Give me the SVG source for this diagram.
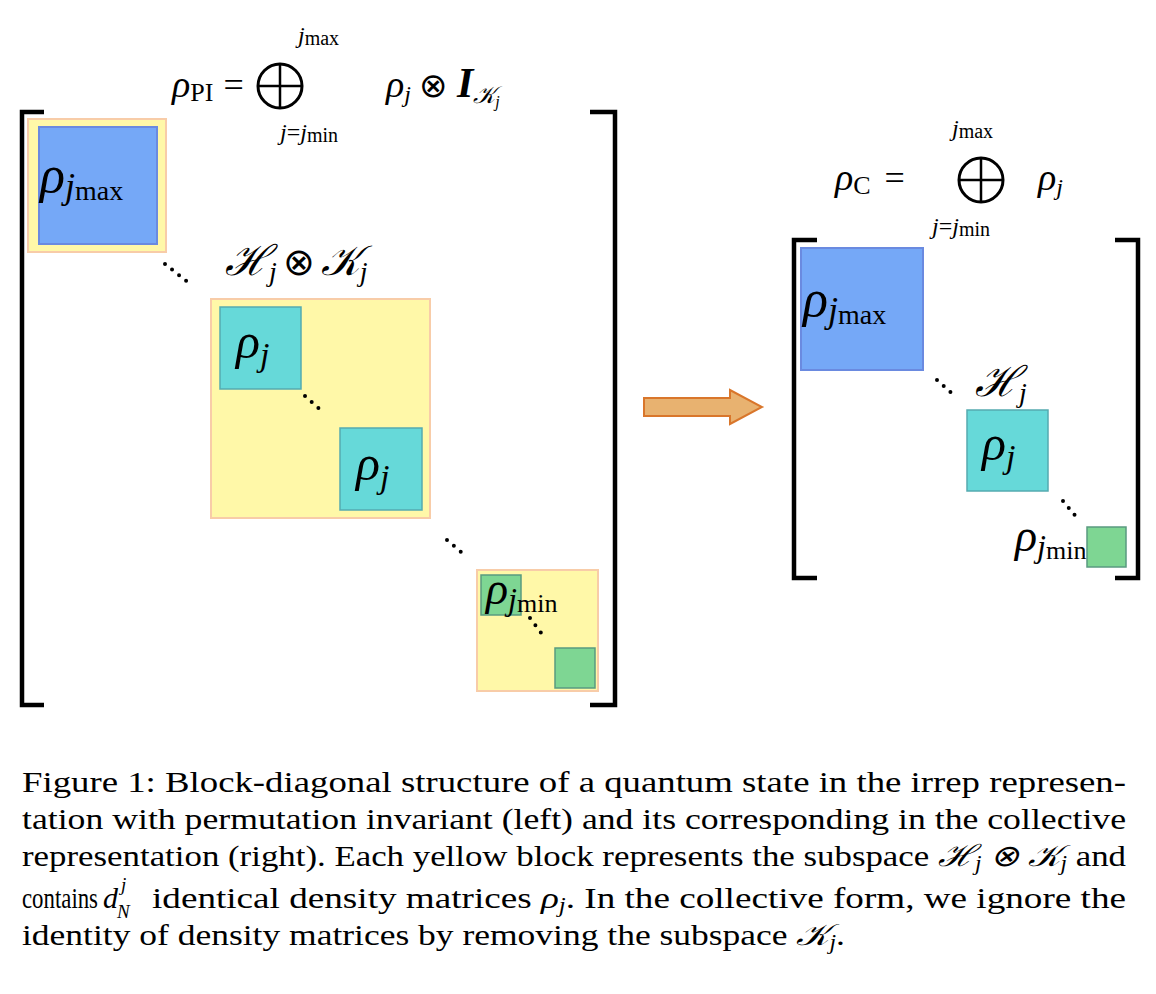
<svg xmlns="http://www.w3.org/2000/svg" width="1156" height="994" viewBox="0 0 1156 994">
<style>
.br{fill:none;stroke:#000;stroke-width:4.5}
.y{fill:#FFF8A8;stroke:#F8CCA8;stroke-width:2}
.b{fill:#75A8F7;stroke:#6A8AE0;stroke-width:2}
.c{fill:#66D9D9;stroke:#55AAB0;stroke-width:1.5}
.g{fill:#7ED693;stroke:#5A9A80;stroke-width:1.5}
.d{fill:none;stroke:#000;stroke-width:4;stroke-linecap:round;stroke-dasharray:0 9}
.m{font-family:"Liberation Serif",serif;font-style:italic;fill:#000}
.r{font-family:"Liberation Serif",serif;fill:#000}
.cap{font-family:"Liberation Serif",serif;font-size:30px;fill:#000}
</style>
<rect width="1156" height="994" fill="#fff"/>
<g id="left-matrix">
<path class="br" d="M44,112 H22 V705 H44"/>
<path class="br" d="M590,112 H615 V705 H590"/>
</g>
<g id="formula-left">
<text x="172" y="97" class="m" font-size="38">ρ<tspan class="r" font-style="normal" font-size="26" dy="4">PI</tspan><tspan class="r" font-style="normal" dx="10" dy="-4" font-size="36">=</tspan></text>
<text x="298" y="43" class="m" font-size="24">j<tspan class="r" font-style="normal" font-size="20" dy="2">max</tspan></text>
<circle cx="280" cy="86" r="22" fill="none" stroke="#000" stroke-width="3"/>
<path d="M258,86 H302 M280,64 V108" stroke="#000" stroke-width="2.5"/>
<text x="280" y="140" class="m" font-size="24">j<tspan class="r" font-style="normal">=</tspan>j<tspan class="r" font-style="normal" font-size="20" dy="2">min</tspan></text>
<text x="386" y="97" class="m" font-size="38">ρ<tspan font-size="24" dy="5">j</tspan><tspan class="r" font-style="normal" dx="8" dy="-5" font-size="34">⊗</tspan><tspan font-weight="bold" dx="10" font-size="42">I</tspan><tspan font-size="24" dy="6">𝒦</tspan><tspan font-size="16" dy="4">j</tspan></text>
</g>
<g id="block-jmax">
<rect class="y" x="28" y="119" width="138" height="133"/>
<rect class="b" x="39" y="127" width="118" height="117"/>
<text x="40" y="192" class="m" font-size="52">ρ<tspan font-size="36" dy="6">j</tspan><tspan class="r" font-style="normal" font-size="28" dy="2">max</tspan></text>
</g>
<g id="label-HK">
<text x="225" y="275" class="m" font-size="42">ℋ<tspan font-size="28" dy="6">j</tspan><tspan class="r" font-style="normal" font-size="38" dx="6" dy="-6">⊗</tspan><tspan dx="6">𝒦</tspan><tspan font-size="28" dy="6">j</tspan></text>
</g>
<g id="block-j">
<rect class="y" x="211" y="299" width="219" height="219"/>
<rect class="c" x="220" y="307" width="81" height="82"/>
<text x="236" y="358" class="m" font-size="50">ρ<tspan font-size="34" dy="8">j</tspan></text>
<rect class="c" x="340" y="428" width="82" height="82"/>
<text x="356" y="480" class="m" font-size="50">ρ<tspan font-size="34" dy="8">j</tspan></text>
</g>
<g id="block-jmin">
<rect class="y" x="477" y="570" width="121" height="121"/>
<rect class="g" x="481" y="575" width="40" height="40"/>
<rect class="g" x="555" y="648" width="40" height="40"/>
<text x="486" y="604" class="m" font-size="46">ρ<tspan font-size="32" dy="6">j</tspan><tspan class="r" font-style="normal" font-size="26" dy="2">min</tspan></text>
</g>
<g id="connectors">
<path class="d" d="M165,264 L190,284"/>
<path class="d" d="M305,396 L325,414"/>
<path class="d" d="M447,540 L467,557"/>
<path class="d" d="M530,618 L545,638"/>
<path class="d" d="M937,380 L956,397"/>
<path class="d" d="M1063,501 L1078,519"/>
<path d="M644,398 H730 V390 L762,407 L730,424 V416 H644 Z" fill="#E8B270" stroke="#D9762B" stroke-width="2"/>
</g>
<g id="right-matrix">
<path class="br" d="M817,240 H794 V578 H817"/>
<path class="br" d="M1115,240 H1138 V578 H1115"/>
</g>
<g id="formula-right">
<text x="835" y="190" class="m" font-size="38">ρ<tspan class="r" font-style="normal" font-size="26" dy="4">C</tspan><tspan class="r" font-style="normal" dx="14" dy="-4" font-size="36">=</tspan></text>
<text x="952" y="136" class="m" font-size="24">j<tspan class="r" font-style="normal" font-size="20" dy="2">max</tspan></text>
<circle cx="981" cy="180" r="22" fill="none" stroke="#000" stroke-width="3"/>
<path d="M959,180 H1003 M981,158 V202" stroke="#000" stroke-width="2.5"/>
<text x="932" y="234" class="m" font-size="24">j<tspan class="r" font-style="normal">=</tspan>j<tspan class="r" font-style="normal" font-size="20" dy="2">min</tspan></text>
<text x="1038" y="190" class="m" font-size="38">ρ<tspan font-size="24" dy="5">j</tspan></text>
</g>
<g id="block-r-jmax">
<rect class="b" x="801" y="248" width="122" height="122"/>
<text x="803" y="316" class="m" font-size="52">ρ<tspan font-size="36" dy="6">j</tspan><tspan class="r" font-style="normal" font-size="28" dy="2">max</tspan></text>
</g>
<g id="label-H">
<text x="975" y="396" class="m" font-size="42">ℋ<tspan font-size="28" dy="6">j</tspan></text>
</g>
<g id="block-r-j">
<rect class="c" x="967" y="410" width="81" height="81"/>
<text x="982" y="460" class="m" font-size="50">ρ<tspan font-size="34" dy="8">j</tspan></text>
</g>
<g id="block-r-jmin">
<rect class="g" x="1087" y="527" width="39" height="40"/>
<text x="1015" y="551" class="m" font-size="46">ρ<tspan font-size="32" dy="6">j</tspan><tspan class="r" font-style="normal" font-size="26" dy="2">min</tspan></text>
</g>
<g id="caption">
<text class="cap" x="22" y="792" textLength="1104" lengthAdjust="spacingAndGlyphs">Figure 1:   Block-diagonal structure of a quantum state in the irrep represen-</text>
<text class="cap" x="22" y="829" textLength="1104" lengthAdjust="spacingAndGlyphs">tation with permutation invariant (left) and its corresponding in the collective</text>
<text class="cap" x="22" y="866" textLength="1104" lengthAdjust="spacingAndGlyphs">representation (right). Each yellow block represents the subspace <tspan font-style="italic">ℋ<tspan font-size="20" dy="4">j</tspan><tspan dy="-4"> ⊗ 𝒦</tspan><tspan font-size="20" dy="4">j</tspan></tspan><tspan dy="-4"> and</tspan></text>
<text class="cap" x="22" y="908" textLength="76" lengthAdjust="spacingAndGlyphs">contains</text>
<text class="cap" x="103" y="908" font-style="italic">d</text>
<text class="m" x="117" y="918" font-size="19">N</text>
<text class="m" x="121" y="891" font-size="19">j</text>
<text class="cap" x="152" y="908" textLength="974" lengthAdjust="spacingAndGlyphs">identical density matrices <tspan font-style="italic">ρ<tspan font-size="20" dy="4">j</tspan></tspan><tspan dy="-4">. In the collective form, we ignore the</tspan></text>
<text class="cap" x="22" y="945" textLength="823" lengthAdjust="spacingAndGlyphs">identity of density matrices by removing the subspace <tspan font-style="italic">𝒦<tspan font-size="20" dy="4">j</tspan></tspan><tspan dy="-4">.</tspan></text>
</g>
</svg>
